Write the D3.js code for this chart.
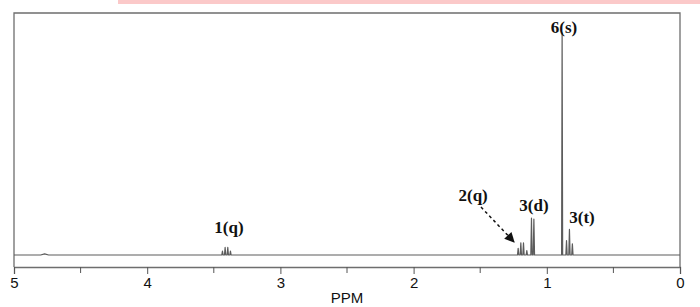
<!DOCTYPE html>
<html>
<head>
<meta charset="utf-8">
<script src="https://cdn.jsdelivr.net/npm/d3@7"></script>
<style>
  body { margin: 0; background: #fff; }
  svg { display: block; }
</style>
</head>
<body>
<div id="chart"></div>
<script>
// peak positions (ppm) and heights (singlet = 100)
var peakPpm    = [4.77, 3.435, 3.415, 3.395, 3.375, 1.215, 1.195, 1.175, 1.150, 1.115, 1.097, 0.885, 0.852, 0.830, 0.808];
var peakHeight = [0.5,  1.8,   3.4,   3.4,   1.8,   3.0,   5.5,   5.5,   2.0,   16.6,  16.2,  100,   6.5,   11.5,  5.0];
var peakWidth  = [0.03, 0.005, 0.005, 0.005, 0.005, 0.005, 0.005, 0.005, 0.005, 0.005, 0.005, 0.004, 0.005, 0.005, 0.005];

// multiplicity labels
var labelText = ["1(q)", "2(q)", "3(d)", "6(s)", "3(t)"];
var labelPpm  = [3.386, 1.553, 1.096, 0.871, 0.736];
var labelInt  = [9.9, 24.3, 19.8, 100, 14.4];

// axis ticks
var majorTicks = [5, 4, 3, 2, 1, 0];
var minorTicks = [4.5, 3.5, 2.5, 1.5, 0.5];

var w = 700, h = 307;
var mLeft = 14, mRight = 680, mTop = 13, axisY = 267, baseY = 255;

var svg = d3.select("#chart")
    .append("svg")
    .attr("width", w)
    .attr("height", h);

// pink strip across the top
svg.append("rect")
    .attr("x", 118).attr("y", 0)
    .attr("width", 582).attr("height", 4)
    .attr("fill", "#fbc9c9");

var x = d3.scaleLinear().domain([5, 0]).range([mLeft, mRight]);
var y = d3.scaleLinear().domain([0, 100]).range([baseY, 33]);

// frame
svg.append("path")
    .attr("d", "M" + mLeft + "," + axisY + "V" + mTop + "H" + mRight + "V" + axisY)
    .attr("fill", "none")
    .attr("stroke", "#6e6e6e")
    .attr("stroke-width", 1.3);

// bottom axis
var axis = d3.axisBottom(x)
    .tickValues(majorTicks)
    .tickFormat(d3.format("d"))
    .tickSize(7)
    .tickPadding(3);

var gAxis = svg.append("g")
    .attr("transform", "translate(0," + axisY + ")")
    .call(axis);

gAxis.select(".domain").attr("stroke", "#6e6e6e").attr("stroke-width", 1.3);
gAxis.selectAll(".tick line").attr("stroke", "#555");
gAxis.selectAll(".tick text")
    .attr("fill", "#111")
    .style("font-family", "Liberation Sans, Arial, sans-serif")
    .style("font-size", "15px");

gAxis.selectAll(".minor")
    .data(minorTicks)
    .enter()
    .append("line")
    .attr("class", "minor")
    .attr("x1", function (d) { return x(d); })
    .attr("x2", function (d) { return x(d); })
    .attr("y1", 0)
    .attr("y2", 6)
    .attr("stroke", "#555");

svg.append("text")
    .attr("x", 347)
    .attr("y", 303)
    .attr("text-anchor", "middle")
    .style("font-family", "Liberation Sans, Arial, sans-serif")
    .style("font-size", "15px")
    .attr("fill", "#111")
    .text("PPM");

// build the spectrum trace from the peak list
var peaks = peakPpm.map(function (p, i) {
    return { ppm: p, h: peakHeight[i], w: peakWidth[i] };
}).sort(function (a, b) { return b.ppm - a.ppm; });

var pts = [[5, 0]];
peaks.forEach(function (pk) {
    pts.push([pk.ppm + pk.w, 0]);
    pts.push([pk.ppm, pk.h]);
    pts.push([pk.ppm - pk.w, 0]);
});
pts.push([0, 0]);

var line = d3.line()
    .x(function (d) { return x(d[0]); })
    .y(function (d) { return y(d[1]); });

svg.append("path")
    .datum(pts)
    .attr("d", line)
    .attr("fill", "none")
    .attr("stroke", "#5c5c5c")
    .attr("stroke-width", 1.2)
    .attr("stroke-linejoin", "round");

// labels
svg.selectAll("text.lbl")
    .data(labelText)
    .enter()
    .append("text")
    .attr("class", "lbl")
    .attr("x", function (d, i) { return x(labelPpm[i]); })
    .attr("y", function (d, i) { return y(labelInt[i]); })
    .attr("text-anchor", "middle")
    .style("font-family", "Liberation Serif, Times New Roman, serif")
    .style("font-weight", "bold")
    .style("font-size", "17px")
    .attr("fill", "#111")
    .text(function (d) { return d; });

// dashed arrow pointing at the quartet
svg.append("defs").append("marker")
    .attr("id", "head")
    .attr("viewBox", "0 0 10 10")
    .attr("refX", 9).attr("refY", 5)
    .attr("markerWidth", 12).attr("markerHeight", 10)
    .attr("markerUnits", "userSpaceOnUse")
    .attr("orient", "auto")
    .append("path")
    .attr("d", "M0,0L10,5L0,10Z")
    .attr("fill", "#111");

svg.append("line")
    .attr("x1", x(1.494)).attr("y1", y(21.6))
    .attr("x2", x(1.246)).attr("y2", y(5.9))
    .attr("stroke", "#111")
    .attr("stroke-width", 1.5)
    .attr("stroke-dasharray", "3,3")
    .attr("marker-end", "url(#head)");
</script>
</body>
</html>
